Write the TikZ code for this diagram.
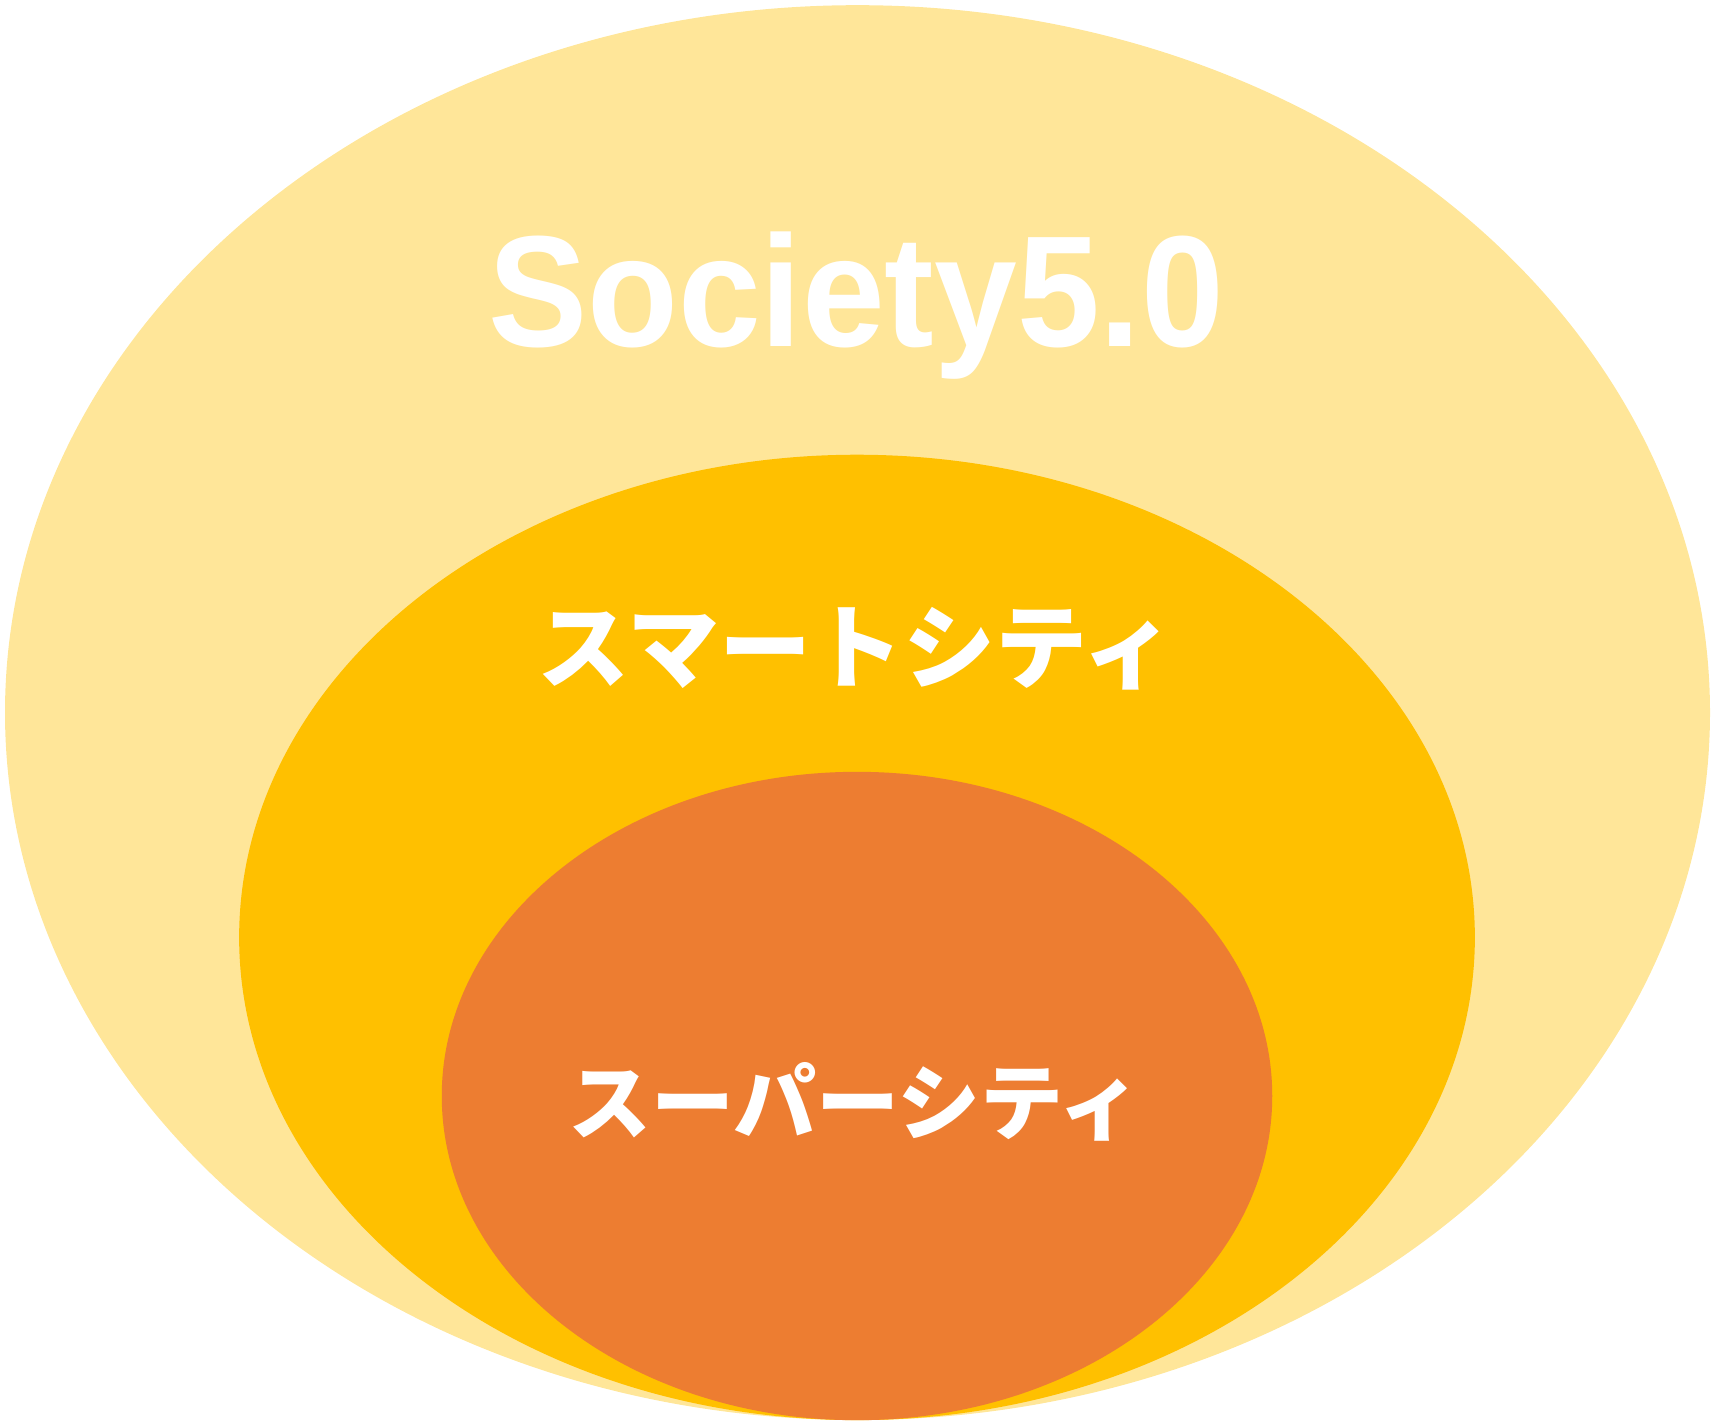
\documentclass[tikz,border=0pt]{standalone}
\usepackage{fontspec}
\setmainfont{Liberation Sans}
\newfontfamily\cjk{Noto Sans CJK JP}[BoldFont={Noto Sans CJK JP Black}]
\definecolor{outerc}{HTML}{FFE699}
\definecolor{midc}{HTML}{FFC000}
\definecolor{innerc}{HTML}{ED7D31}
\begin{document}
\begin{tikzpicture}[x=0.01cm,y=0.01cm,
  lbl/.style={text=white,inner sep=0pt,anchor=base}]
\useasboundingbox (0,0) rectangle (1715,1423);
\fill[outerc] (857.5,710.4) ellipse [x radius=8.52cm, y radius=7.07cm];
\fill[midc] (857,485.6) ellipse [x radius=6.175cm, y radius=4.824cm];
\fill[innerc] (857,327) ellipse [x radius=4.15cm, y radius=3.24cm];
\node[lbl,font=\bfseries\fontsize{45}{45}\selectfont] (soc) at (856,1077) {\scalebox{0.94}[1]{Society5.0}};
\node[lbl,font=\cjk\bfseries\fontsize{26.2}{26.2}\selectfont] (smart) at (856,742) {スマートシティ};
\node[lbl,font=\cjk\bfseries\fontsize{23.6}{23.6}\selectfont] (super) at (855,290) {スーパーシティ};
\end{tikzpicture}
\end{document}
